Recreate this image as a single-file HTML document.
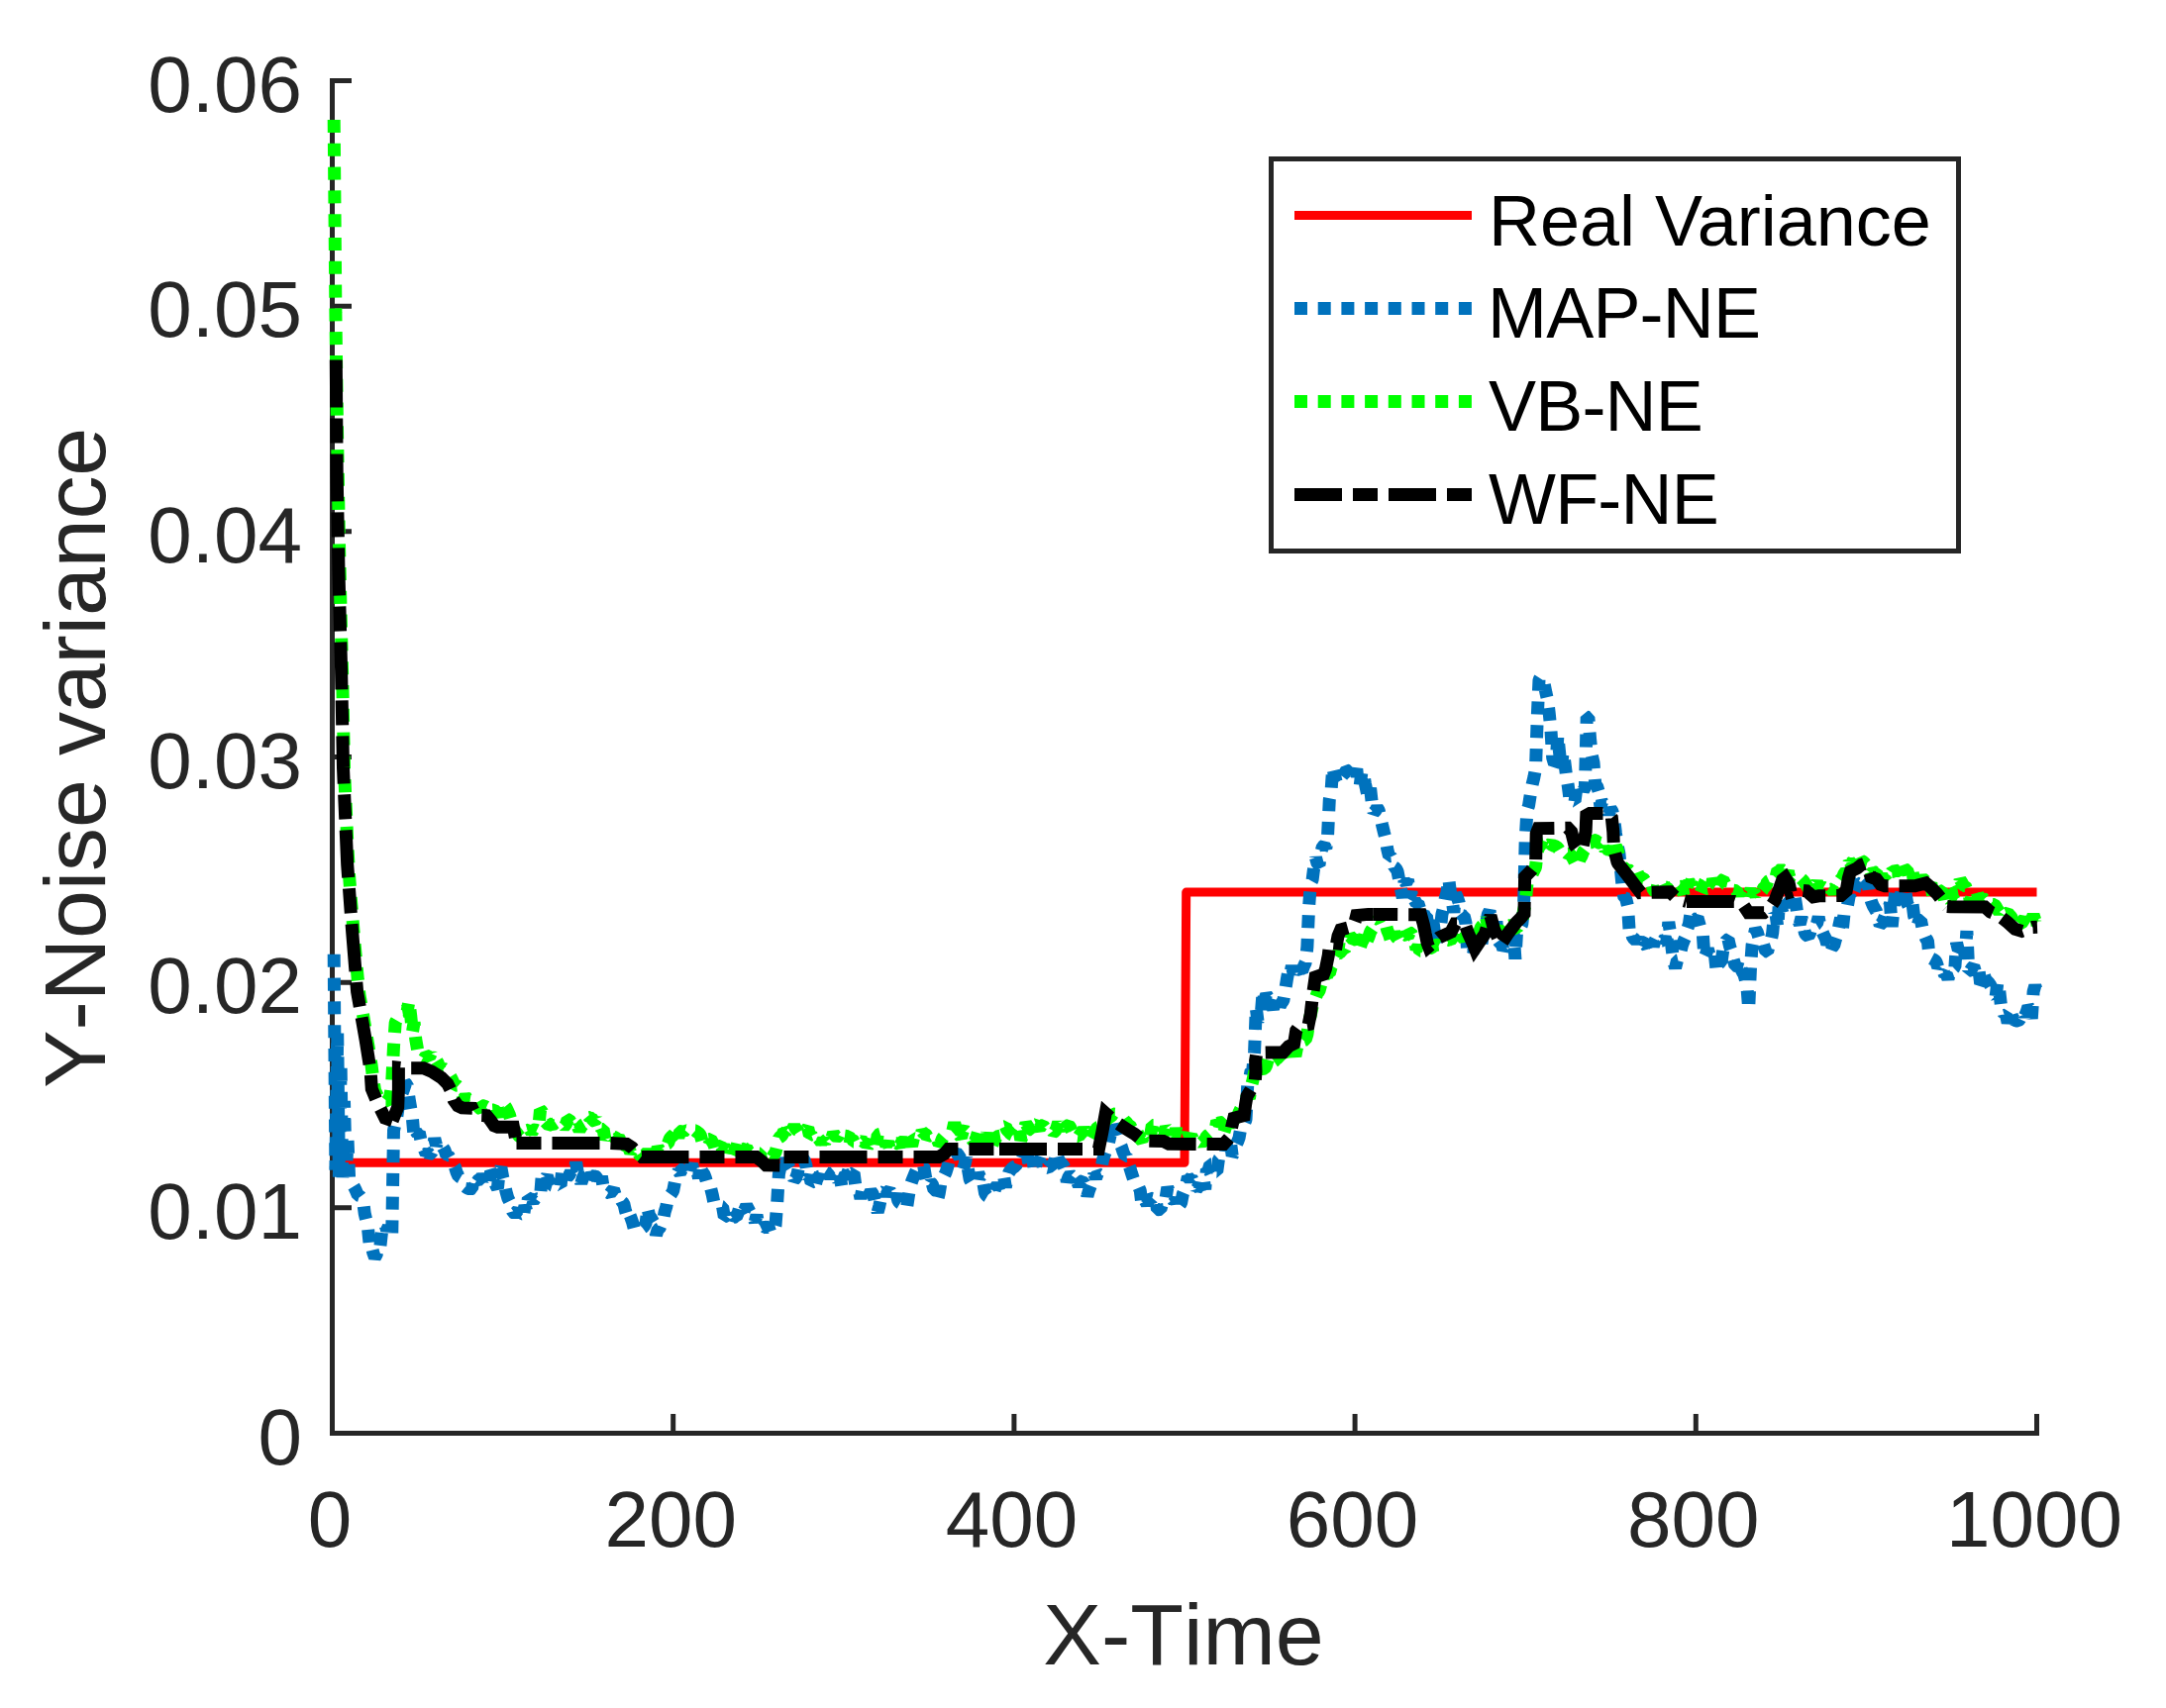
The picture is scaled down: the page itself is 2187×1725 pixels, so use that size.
<!DOCTYPE html>
<html lang="en"><head><meta charset="utf-8"><title>Y-Noise variance</title>
<style>html,body{margin:0;padding:0;background:#fff}svg{display:block}text{font-family:"Liberation Sans",Arial,Helvetica,sans-serif}.tk{font-size:80px;fill:#262626}.lb{font-size:88px;fill:#262626;font-kerning:none}.lg{font-size:72px;fill:#000}</style></head><body>
<svg width="2187" height="1725" viewBox="0 0 2187 1725">
<rect width="2187" height="1725" fill="#fff"/>
<g stroke="#262626" stroke-width="5" fill="none" stroke-linecap="butt">
<path d="M335.5 79 V1450 M333 1447.5 H2059"/>
<path d="M333 1219.8 H355 M333 992.2 H355 M333 764.5 H355 M333 536.8 H355 M333 309.2 H355 M333 81.5 H355 M679.7 1450 V1428 M1023.9 1450 V1428 M1368.1 1450 V1428 M1712.3 1450 V1428 M2056.5 1450 V1428"/>
</g>
<g fill="none" stroke-linejoin="miter" stroke-linecap="butt">
<path d="M337.2 1174.3 L1196.0 1174.3 L1197.7 901.1 L2056.5 901.1" stroke="#ff0000" stroke-width="9" stroke-linejoin="round"/>
<path d="M337.2 963.8 L338.9 1181.6 L340.7 1043.0 L342.4 1188.6 L344.1 1075.4 L345.8 1193.7 L347.5 1112.0 L349.3 1186.6 L351.0 1150.2 L352.7 1192.0 L354.4 1193.6 L356.2 1196.6 L357.9 1199.4 L359.6 1202.9 L361.3 1207.0 L363.0 1207.5 L364.8 1210.0 L366.5 1212.1 L368.2 1225.5 L369.9 1232.8 L371.6 1241.3 L373.4 1258.8 L375.1 1257.8 L376.8 1265.3 L378.5 1269.9 L380.2 1267.0 L382.0 1259.0 L383.7 1260.3 L385.4 1245.0 L387.1 1244.3 L388.9 1236.9 L390.6 1242.3 L392.3 1238.7 L394.0 1247.3 L395.7 1249.4 L397.5 1141.7 L399.2 1134.3 L400.9 1126.8 L402.6 1114.6 L404.3 1110.3 L406.1 1103.8 L407.8 1099.5 L409.5 1094.3 L411.2 1095.5 L412.9 1108.6 L414.7 1119.2 L416.4 1129.2 L418.1 1148.5 L419.8 1142.5 L421.6 1145.2 L423.3 1143.7 L425.0 1151.8 L426.7 1157.6 L428.4 1161.0 L430.2 1165.3 L431.9 1163.9 L433.6 1165.8 L435.3 1165.1 L437.0 1160.7 L438.8 1149.8 L440.5 1156.5 L442.2 1152.7 L443.9 1156.2 L445.6 1155.8 L447.4 1159.2 L449.1 1161.7 L450.8 1166.9 L452.5 1166.7 L454.2 1169.8 L456.0 1172.9 L457.7 1176.3 L459.4 1178.6 L461.1 1184.1 L462.9 1188.1 L464.6 1188.8 L466.3 1189.8 L468.0 1194.9 L469.7 1198.2 L471.5 1199.7 L473.2 1200.4 L474.9 1201.1 L476.6 1200.3 L478.3 1189.0 L480.1 1192.4 L481.8 1193.5 L483.5 1191.1 L485.2 1190.7 L486.9 1187.6 L488.7 1190.2 L490.4 1188.5 L492.1 1189.8 L493.8 1194.6 L495.6 1183.4 L497.3 1185.3 L499.0 1189.6 L500.7 1197.0 L502.4 1200.1 L504.2 1182.9 L505.9 1179.2 L507.6 1188.6 L509.3 1195.0 L511.0 1203.6 L512.8 1210.0 L514.5 1213.4 L516.2 1218.6 L517.9 1224.4 L519.6 1225.3 L521.4 1224.1 L523.1 1222.0 L524.8 1226.4 L526.5 1225.8 L528.3 1229.8 L530.0 1217.5 L531.7 1223.1 L533.4 1210.0 L535.1 1210.6 L536.9 1211.2 L538.6 1213.0 L540.3 1210.6 L542.0 1211.0 L543.7 1210.2 L545.5 1209.6 L547.2 1187.5 L548.9 1191.5 L550.6 1190.4 L552.3 1187.6 L554.1 1193.4 L555.8 1194.1 L557.5 1197.3 L559.2 1197.8 L561.0 1195.9 L562.7 1194.6 L564.4 1196.5 L566.1 1197.4 L567.8 1181.1 L569.6 1185.8 L571.3 1185.3 L573.0 1188.5 L574.7 1187.1 L576.4 1183.4 L578.2 1186.6 L579.9 1186.0 L581.6 1173.6 L583.3 1184.9 L585.0 1188.8 L586.8 1195.0 L588.5 1189.3 L590.2 1185.8 L591.9 1184.8 L593.6 1183.2 L595.4 1189.8 L597.1 1186.0 L598.8 1188.0 L600.5 1187.4 L602.3 1188.7 L604.0 1193.5 L605.7 1197.3 L607.4 1188.1 L609.1 1198.6 L610.9 1202.8 L612.6 1204.4 L614.3 1204.5 L616.0 1205.5 L617.7 1203.2 L619.5 1201.2 L621.2 1206.6 L622.9 1207.1 L624.6 1209.4 L626.3 1209.3 L628.1 1213.9 L629.8 1215.4 L631.5 1222.9 L633.2 1228.6 L635.0 1225.0 L636.7 1229.0 L638.4 1233.7 L640.1 1240.2 L641.8 1240.9 L643.6 1242.3 L645.3 1240.6 L647.0 1241.5 L648.7 1239.9 L650.4 1238.7 L652.2 1235.1 L653.9 1220.2 L655.6 1227.8 L657.3 1230.0 L659.0 1233.1 L660.8 1236.1 L662.5 1247.4 L664.2 1241.7 L665.9 1240.8 L667.7 1236.3 L669.4 1233.6 L671.1 1224.2 L672.8 1218.6 L674.5 1208.9 L676.3 1207.8 L678.0 1205.4 L679.7 1202.8 L681.4 1194.0 L683.1 1186.1 L684.9 1182.7 L686.6 1184.7 L688.3 1181.1 L690.0 1180.6 L691.7 1184.8 L693.5 1185.6 L695.2 1187.6 L696.9 1179.7 L698.6 1175.4 L700.4 1184.5 L702.1 1183.2 L703.8 1182.8 L705.5 1189.7 L707.2 1175.6 L709.0 1183.8 L710.7 1185.3 L712.4 1189.8 L714.1 1195.6 L715.8 1195.2 L717.6 1199.9 L719.3 1206.8 L721.0 1215.1 L722.7 1216.0 L724.4 1217.3 L726.2 1218.6 L727.9 1218.4 L729.6 1218.8 L731.3 1228.8 L733.1 1228.3 L734.8 1226.0 L736.5 1224.8 L738.2 1226.1 L739.9 1230.4 L741.7 1229.0 L743.4 1229.2 L745.1 1225.2 L746.8 1219.3 L748.5 1221.4 L750.3 1224.7 L752.0 1221.5 L753.7 1217.5 L755.4 1220.8 L757.1 1224.1 L758.9 1223.6 L760.6 1229.7 L762.3 1233.8 L764.0 1227.3 L765.8 1236.1 L767.5 1240.8 L769.2 1240.0 L770.9 1238.6 L772.6 1239.4 L774.4 1239.4 L776.1 1239.3 L777.8 1244.6 L779.5 1244.6 L781.2 1243.5 L783.0 1237.6 L784.7 1214.7 L786.4 1185.8 L788.1 1178.1 L789.8 1179.5 L791.6 1178.6 L793.3 1169.7 L795.0 1175.8 L796.7 1178.7 L798.4 1181.6 L800.2 1185.7 L801.9 1191.5 L803.6 1190.0 L805.3 1184.8 L807.1 1175.7 L808.8 1170.0 L810.5 1169.9 L812.2 1171.7 L813.9 1176.9 L815.7 1190.7 L817.4 1188.1 L819.1 1194.2 L820.8 1193.5 L822.5 1200.4 L824.3 1192.3 L826.0 1188.5 L827.7 1188.1 L829.4 1179.4 L831.1 1181.2 L832.9 1183.6 L834.6 1184.7 L836.3 1185.8 L838.0 1188.3 L839.8 1185.6 L841.5 1184.3 L843.2 1183.2 L844.9 1188.1 L846.6 1193.0 L848.4 1189.4 L850.1 1199.9 L851.8 1190.2 L853.5 1186.1 L855.2 1186.8 L857.0 1181.3 L858.7 1178.6 L860.4 1185.3 L862.1 1184.6 L863.8 1197.4 L865.6 1199.2 L867.3 1202.1 L869.0 1210.5 L870.7 1201.6 L872.5 1201.7 L874.2 1203.7 L875.9 1205.5 L877.6 1206.5 L879.3 1203.0 L881.1 1205.5 L882.8 1210.8 L884.5 1218.4 L886.2 1224.2 L887.9 1217.8 L889.7 1209.0 L891.4 1204.1 L893.1 1203.0 L894.8 1207.1 L896.5 1203.6 L898.3 1202.3 L900.0 1205.5 L901.7 1209.0 L903.4 1210.9 L905.2 1206.1 L906.9 1213.0 L908.6 1214.9 L910.3 1215.9 L912.0 1217.2 L913.8 1217.8 L915.5 1220.1 L917.2 1208.8 L918.9 1198.6 L920.6 1193.2 L922.4 1188.7 L924.1 1184.6 L925.8 1181.0 L927.5 1181.4 L929.2 1177.7 L931.0 1177.6 L932.7 1177.7 L934.4 1188.0 L936.1 1195.1 L937.9 1197.5 L939.6 1194.3 L941.3 1195.8 L943.0 1201.7 L944.7 1202.2 L946.5 1212.1 L948.2 1205.5 L949.9 1195.2 L951.6 1191.8 L953.3 1187.6 L955.1 1183.9 L956.8 1178.4 L958.5 1170.8 L960.2 1167.7 L961.9 1164.7 L963.7 1164.4 L965.4 1163.5 L967.1 1166.2 L968.8 1167.2 L970.5 1177.5 L972.3 1181.3 L974.0 1176.2 L975.7 1169.1 L977.4 1180.7 L979.2 1191.1 L980.9 1194.0 L982.6 1195.2 L984.3 1195.8 L986.0 1195.6 L987.8 1184.7 L989.5 1188.7 L991.2 1186.5 L992.9 1195.1 L994.6 1205.5 L996.4 1207.8 L998.1 1208.8 L999.8 1208.3 L1001.5 1206.9 L1003.2 1205.9 L1005.0 1199.5 L1006.7 1197.3 L1008.4 1199.4 L1010.1 1192.9 L1011.9 1192.6 L1013.6 1188.0 L1015.3 1199.0 L1017.0 1190.2 L1018.7 1184.2 L1020.5 1181.6 L1022.2 1179.8 L1023.9 1178.5 L1025.6 1177.8 L1027.3 1172.9 L1029.1 1173.7 L1030.8 1174.2 L1032.5 1169.6 L1034.2 1169.2 L1035.9 1167.5 L1037.7 1168.5 L1039.4 1178.8 L1041.1 1171.9 L1042.8 1169.3 L1044.6 1183.8 L1046.3 1173.1 L1048.0 1173.0 L1049.7 1171.9 L1051.4 1176.7 L1053.2 1179.8 L1054.9 1181.1 L1056.6 1179.2 L1058.3 1179.6 L1060.0 1177.7 L1061.8 1177.0 L1063.5 1174.9 L1065.2 1171.8 L1066.9 1163.8 L1068.6 1170.9 L1070.4 1173.6 L1072.1 1175.4 L1073.8 1177.3 L1075.5 1181.4 L1077.3 1193.5 L1079.0 1188.7 L1080.7 1186.3 L1082.4 1187.9 L1084.1 1187.2 L1085.9 1191.0 L1087.6 1193.6 L1089.3 1197.5 L1091.0 1193.2 L1092.7 1192.9 L1094.5 1195.1 L1096.2 1199.1 L1097.9 1207.8 L1099.6 1202.0 L1101.3 1197.7 L1103.1 1193.8 L1104.8 1185.7 L1106.5 1189.8 L1108.2 1185.2 L1110.0 1186.4 L1111.7 1182.8 L1113.4 1172.0 L1115.1 1166.6 L1116.8 1161.8 L1118.6 1157.9 L1120.3 1150.2 L1122.0 1142.1 L1123.7 1142.3 L1125.4 1133.3 L1127.2 1143.9 L1128.9 1149.2 L1130.6 1154.2 L1132.3 1158.0 L1134.0 1163.3 L1135.8 1167.5 L1137.5 1167.3 L1139.2 1175.2 L1140.9 1179.5 L1142.6 1185.1 L1144.4 1190.5 L1146.1 1193.6 L1147.8 1195.3 L1149.5 1198.3 L1151.3 1202.5 L1153.0 1217.1 L1154.7 1213.1 L1156.4 1212.9 L1158.1 1216.0 L1159.9 1212.2 L1161.6 1210.1 L1163.3 1210.5 L1165.0 1208.5 L1166.7 1209.2 L1168.5 1221.5 L1170.2 1221.7 L1171.9 1221.4 L1173.6 1214.9 L1175.3 1215.3 L1177.1 1209.8 L1178.8 1199.4 L1180.5 1203.7 L1182.2 1207.6 L1184.0 1210.9 L1185.7 1213.9 L1187.4 1210.1 L1189.1 1221.8 L1190.8 1217.4 L1192.6 1215.0 L1194.3 1206.0 L1196.0 1201.9 L1197.7 1196.2 L1199.4 1188.8 L1201.2 1190.7 L1202.9 1188.9 L1204.6 1193.7 L1206.3 1195.5 L1208.0 1201.1 L1209.8 1198.9 L1211.5 1201.0 L1213.2 1191.4 L1214.9 1188.8 L1216.7 1201.3 L1218.4 1181.0 L1220.1 1181.8 L1221.8 1176.1 L1223.5 1176.1 L1225.3 1177.0 L1227.0 1183.4 L1228.7 1183.5 L1230.4 1170.8 L1232.1 1169.2 L1233.9 1165.9 L1235.6 1165.7 L1237.3 1164.2 L1239.0 1149.7 L1240.7 1148.8 L1242.5 1153.9 L1244.2 1167.2 L1245.9 1164.3 L1247.6 1157.2 L1249.4 1153.5 L1251.1 1149.2 L1252.8 1139.1 L1254.5 1137.4 L1256.2 1135.1 L1258.0 1130.7 L1259.7 1096.5 L1261.4 1090.8 L1263.1 1081.4 L1264.8 1080.8 L1266.6 1062.1 L1268.3 1017.9 L1270.0 1031.3 L1271.7 1026.0 L1273.4 1023.5 L1275.2 1000.5 L1276.9 1009.4 L1278.6 1004.6 L1280.3 1007.1 L1282.0 1014.7 L1283.8 1014.8 L1285.5 1018.9 L1287.2 1012.7 L1288.9 1006.9 L1290.7 1006.8 L1292.4 1016.0 L1294.1 1012.8 L1295.8 1010.6 L1297.5 1001.1 L1299.3 989.7 L1301.0 980.3 L1302.7 983.6 L1304.4 975.6 L1306.1 983.2 L1307.9 979.2 L1309.6 978.0 L1311.3 981.2 L1313.0 979.5 L1314.7 980.8 L1316.5 975.7 L1318.2 972.1 L1319.9 956.2 L1321.6 916.1 L1323.4 891.7 L1325.1 888.6 L1326.8 875.5 L1328.5 866.2 L1330.2 872.5 L1332.0 873.6 L1333.7 861.1 L1335.4 855.1 L1337.1 853.9 L1338.8 857.0 L1340.6 843.2 L1342.3 807.5 L1344.0 799.6 L1345.7 775.1 L1347.4 782.8 L1349.2 789.4 L1350.9 791.9 L1352.6 787.2 L1354.3 784.6 L1356.1 782.3 L1357.8 780.7 L1359.5 778.0 L1361.2 778.5 L1362.9 783.8 L1364.7 779.7 L1366.4 778.9 L1368.1 781.2 L1369.8 776.7 L1371.5 794.3 L1373.3 792.7 L1375.0 778.9 L1376.7 781.0 L1378.4 791.5 L1380.1 799.6 L1381.9 803.0 L1383.6 796.0 L1385.3 811.4 L1387.0 820.6 L1388.8 818.8 L1390.5 815.7 L1392.2 818.4 L1393.9 825.5 L1395.6 833.2 L1397.4 840.6 L1399.1 847.2 L1400.8 857.7 L1402.5 864.7 L1404.2 864.5 L1406.0 868.2 L1407.7 875.8 L1409.4 876.8 L1411.1 880.2 L1412.8 889.2 L1414.6 898.5 L1416.3 906.7 L1418.0 889.9 L1419.7 891.9 L1421.5 888.0 L1423.2 906.5 L1424.9 900.7 L1426.6 912.5 L1428.3 909.1 L1430.1 912.4 L1431.8 912.1 L1433.5 917.2 L1435.2 914.6 L1436.9 921.6 L1438.7 925.0 L1440.4 925.2 L1442.1 938.3 L1443.8 932.2 L1445.5 934.5 L1447.3 933.2 L1449.0 946.2 L1450.7 951.5 L1452.4 938.2 L1454.2 939.6 L1455.9 923.7 L1457.6 916.9 L1459.3 907.0 L1461.0 901.4 L1462.8 888.0 L1464.5 901.8 L1466.2 908.8 L1467.9 921.7 L1469.6 902.6 L1471.4 906.4 L1473.1 911.3 L1474.8 922.4 L1476.5 924.6 L1478.2 925.0 L1480.0 932.4 L1481.7 961.9 L1483.4 956.0 L1485.1 956.7 L1486.8 955.7 L1488.6 959.1 L1490.3 958.1 L1492.0 960.6 L1493.7 961.8 L1495.5 956.6 L1497.2 944.8 L1498.9 936.1 L1500.6 932.4 L1502.3 923.5 L1504.1 920.0 L1505.8 931.7 L1507.5 937.6 L1509.2 945.5 L1510.9 930.5 L1512.7 949.9 L1514.4 952.3 L1516.1 953.0 L1517.8 958.6 L1519.5 956.4 L1521.3 956.0 L1523.0 949.9 L1524.7 948.4 L1526.4 949.8 L1528.2 942.6 L1529.9 968.6 L1531.6 939.9 L1533.3 938.1 L1535.0 937.0 L1536.8 933.4 L1538.5 917.9 L1540.2 848.2 L1541.9 818.8 L1543.6 813.3 L1545.4 801.7 L1547.1 792.3 L1548.8 785.4 L1550.5 776.4 L1552.2 725.5 L1554.0 686.5 L1555.7 683.9 L1557.4 684.0 L1559.1 690.5 L1560.9 699.5 L1562.6 706.9 L1564.3 721.1 L1566.0 738.0 L1567.7 765.3 L1569.5 771.3 L1571.2 770.1 L1572.9 742.6 L1574.6 760.1 L1576.3 775.1 L1578.1 759.9 L1579.8 769.4 L1581.5 783.0 L1583.2 793.1 L1584.9 806.3 L1586.7 810.9 L1588.4 808.8 L1590.1 809.3 L1591.8 796.0 L1593.6 795.8 L1595.3 792.7 L1597.0 792.2 L1598.7 798.3 L1600.4 795.4 L1602.2 724.1 L1603.9 724.4 L1605.6 746.8 L1607.3 762.9 L1609.0 770.3 L1610.8 792.6 L1612.5 794.0 L1614.2 799.5 L1615.9 815.1 L1617.6 809.8 L1619.4 812.0 L1621.1 816.3 L1622.8 816.8 L1624.5 822.2 L1626.2 816.8 L1628.0 819.6 L1629.7 827.3 L1631.4 841.4 L1633.1 853.7 L1634.9 861.9 L1636.6 879.4 L1638.3 897.6 L1640.0 906.9 L1641.7 907.5 L1643.5 915.0 L1645.2 941.1 L1646.9 939.5 L1648.6 947.1 L1650.3 948.5 L1652.1 950.4 L1653.8 948.3 L1655.5 951.4 L1657.2 957.1 L1658.9 958.5 L1660.7 953.8 L1662.4 955.2 L1664.1 950.7 L1665.8 947.1 L1667.6 944.0 L1669.3 955.7 L1671.0 950.1 L1672.7 946.6 L1674.4 945.9 L1676.2 950.5 L1677.9 949.9 L1679.6 949.8 L1681.3 947.4 L1683.0 951.3 L1684.8 931.3 L1686.5 942.2 L1688.2 958.5 L1689.9 971.5 L1691.6 977.5 L1693.4 970.1 L1695.1 969.7 L1696.8 961.6 L1698.5 954.4 L1700.3 949.8 L1702.0 946.1 L1703.7 938.0 L1705.4 933.3 L1707.1 921.7 L1708.9 928.1 L1710.6 928.1 L1712.3 928.3 L1714.0 926.8 L1715.7 932.7 L1717.5 939.4 L1719.2 941.4 L1720.9 967.0 L1722.6 963.4 L1724.3 958.2 L1726.1 964.6 L1727.8 963.4 L1729.5 960.8 L1731.2 962.2 L1733.0 979.3 L1734.7 972.6 L1736.4 972.2 L1738.1 971.4 L1739.8 959.4 L1741.6 953.3 L1743.3 949.2 L1745.0 948.7 L1746.7 956.2 L1748.4 961.0 L1750.2 969.2 L1751.9 975.2 L1753.6 975.7 L1755.3 969.8 L1757.0 970.0 L1758.8 981.3 L1760.5 982.9 L1762.2 988.8 L1763.9 996.0 L1765.7 1019.1 L1767.4 979.2 L1769.1 954.6 L1770.8 945.8 L1772.5 938.5 L1774.3 941.4 L1776.0 947.2 L1777.7 949.9 L1779.4 949.3 L1781.1 955.4 L1782.9 960.9 L1784.6 961.2 L1786.3 954.3 L1788.0 950.5 L1789.7 942.3 L1791.5 923.0 L1793.2 924.6 L1794.9 937.0 L1796.6 907.1 L1798.3 916.3 L1800.1 922.4 L1801.8 920.0 L1803.5 915.6 L1805.2 912.4 L1807.0 910.5 L1808.7 910.8 L1810.4 915.9 L1812.1 904.9 L1813.8 915.8 L1815.6 929.5 L1817.3 933.3 L1819.0 926.4 L1820.7 933.5 L1822.4 942.6 L1824.2 944.6 L1825.9 945.6 L1827.6 942.1 L1829.3 935.4 L1831.0 933.8 L1832.8 933.9 L1834.5 932.9 L1836.2 926.2 L1837.9 935.4 L1839.7 940.1 L1841.4 944.3 L1843.1 947.5 L1844.8 953.3 L1846.5 950.0 L1848.3 948.6 L1850.0 956.4 L1851.7 955.0 L1853.4 948.8 L1855.1 944.0 L1856.9 934.7 L1858.6 927.1 L1860.3 939.0 L1862.0 923.2 L1863.7 917.7 L1865.5 914.1 L1867.2 904.9 L1868.9 909.0 L1870.6 903.1 L1872.4 898.9 L1874.1 891.6 L1875.8 892.4 L1877.5 891.0 L1879.2 887.1 L1881.0 890.0 L1882.7 886.7 L1884.4 888.4 L1886.1 891.7 L1887.8 904.5 L1889.6 910.7 L1891.3 914.9 L1893.0 917.8 L1894.7 920.8 L1896.4 928.4 L1898.2 934.0 L1899.9 932.6 L1901.6 929.7 L1903.3 925.4 L1905.1 919.2 L1906.8 917.2 L1908.5 912.6 L1910.2 935.9 L1911.9 918.6 L1913.7 901.2 L1915.4 908.3 L1917.1 912.2 L1918.8 907.2 L1920.5 897.8 L1922.3 897.1 L1924.0 901.6 L1925.7 912.4 L1927.4 915.9 L1929.1 917.2 L1930.9 911.7 L1932.6 925.2 L1934.3 929.5 L1936.0 935.1 L1937.8 929.3 L1939.5 929.4 L1941.2 938.1 L1942.9 943.4 L1944.6 947.9 L1946.4 950.0 L1948.1 967.0 L1949.8 967.8 L1951.5 968.7 L1953.2 969.4 L1955.0 971.5 L1956.7 976.6 L1958.4 974.3 L1960.1 980.0 L1961.8 980.7 L1963.6 984.7 L1965.3 983.8 L1967.0 988.7 L1968.7 981.5 L1970.5 981.8 L1972.2 978.2 L1973.9 976.6 L1975.6 952.3 L1977.3 959.2 L1979.1 958.1 L1980.8 952.1 L1982.5 956.3 L1984.2 964.9 L1985.9 940.2 L1987.7 980.4 L1989.4 980.1 L1991.1 977.4 L1992.8 975.8 L1994.5 981.4 L1996.3 976.9 L1998.0 979.4 L1999.7 993.4 L2001.4 991.6 L2003.1 983.9 L2004.9 989.6 L2006.6 991.0 L2008.3 992.9 L2010.0 995.4 L2011.8 1002.3 L2013.5 1004.4 L2015.2 1006.0 L2016.9 992.1 L2018.6 999.2 L2020.4 1015.2 L2022.1 1018.3 L2023.8 1025.5 L2025.5 1025.0 L2027.2 1033.0 L2029.0 1026.6 L2030.7 1023.0 L2032.4 1029.3 L2034.1 1030.1 L2035.8 1031.0 L2037.6 1031.1 L2039.3 1029.7 L2041.0 1025.9 L2042.7 1021.9 L2044.5 1025.9 L2046.2 1022.0 L2047.9 1016.8 L2049.6 1019.0 L2051.3 1028.7 L2053.1 1001.6 L2054.8 995.6 L2056.5 1000.8" stroke="#0072bd" stroke-width="13" stroke-dasharray="13 10.8" stroke-linejoin="bevel"/>
<path d="M337.2 121.0 L338.9 315.7 L340.7 447.2 L342.4 544.5 L344.1 620.1 L345.8 688.7 L347.5 776.1 L349.3 816.3 L351.0 856.4 L352.7 886.1 L354.4 908.3 L356.2 930.6 L357.9 951.1 L359.6 970.2 L361.3 989.3 L363.0 1005.0 L364.8 1014.9 L366.5 1024.7 L368.2 1034.5 L369.9 1044.4 L371.6 1054.6 L373.4 1065.3 L375.1 1076.1 L376.8 1090.1 L378.5 1101.3 L380.2 1104.7 L382.0 1108.2 L383.7 1111.6 L385.4 1112.1 L387.1 1112.1 L388.9 1112.1 L390.6 1112.1 L392.3 1110.1 L394.0 1106.7 L395.7 1094.2 L397.5 1056.9 L399.2 1032.6 L400.9 1029.7 L402.6 1026.8 L404.3 1023.7 L406.1 1021.4 L407.8 1021.1 L409.5 1020.3 L411.2 1021.2 L412.9 1011.4 L414.7 1025.7 L416.4 1042.5 L418.1 1032.5 L419.8 1049.9 L421.6 1060.1 L423.3 1065.3 L425.0 1067.6 L426.7 1068.1 L428.4 1069.0 L430.2 1066.0 L431.9 1066.8 L433.6 1067.5 L435.3 1064.0 L437.0 1069.1 L438.8 1068.4 L440.5 1070.9 L442.2 1073.7 L443.9 1079.5 L445.6 1079.1 L447.4 1078.8 L449.1 1080.0 L450.8 1080.8 L452.5 1083.6 L454.2 1086.5 L456.0 1089.4 L457.7 1093.2 L459.4 1096.2 L461.1 1096.0 L462.9 1097.6 L464.6 1098.6 L466.3 1103.3 L468.0 1110.0 L469.7 1107.6 L471.5 1109.7 L473.2 1110.0 L474.9 1110.3 L476.6 1110.5 L478.3 1112.9 L480.1 1112.7 L481.8 1114.9 L483.5 1119.0 L485.2 1119.7 L486.9 1116.7 L488.7 1116.7 L490.4 1117.9 L492.1 1118.6 L493.8 1121.1 L495.6 1117.9 L497.3 1121.1 L499.0 1121.0 L500.7 1122.8 L502.4 1123.7 L504.2 1125.8 L505.9 1122.8 L507.6 1123.8 L509.3 1116.4 L511.0 1118.5 L512.8 1122.3 L514.5 1126.2 L516.2 1132.6 L517.9 1133.3 L519.6 1142.3 L521.4 1143.7 L523.1 1146.1 L524.8 1148.2 L526.5 1148.6 L528.3 1142.8 L530.0 1142.6 L531.7 1142.0 L533.4 1141.5 L535.1 1140.7 L536.9 1143.8 L538.6 1141.2 L540.3 1140.9 L542.0 1141.7 L543.7 1140.0 L545.5 1121.1 L547.2 1122.5 L548.9 1127.4 L550.6 1132.7 L552.3 1134.6 L554.1 1136.4 L555.8 1135.9 L557.5 1136.7 L559.2 1134.9 L561.0 1133.7 L562.7 1134.6 L564.4 1136.2 L566.1 1136.5 L567.8 1135.6 L569.6 1137.7 L571.3 1135.9 L573.0 1130.7 L574.7 1131.0 L576.4 1133.5 L578.2 1133.7 L579.9 1135.7 L581.6 1140.4 L583.3 1138.0 L585.0 1141.5 L586.8 1138.1 L588.5 1136.1 L590.2 1135.1 L591.9 1127.7 L593.6 1126.5 L595.4 1128.7 L597.1 1128.3 L598.8 1131.7 L600.5 1132.4 L602.3 1129.8 L604.0 1134.6 L605.7 1136.1 L607.4 1140.4 L609.1 1140.5 L610.9 1150.5 L612.6 1147.0 L614.3 1146.1 L616.0 1145.6 L617.7 1146.4 L619.5 1148.2 L621.2 1148.7 L622.9 1150.1 L624.6 1148.6 L626.3 1151.6 L628.1 1149.4 L629.8 1151.6 L631.5 1151.3 L633.2 1160.9 L635.0 1159.7 L636.7 1163.9 L638.4 1161.0 L640.1 1162.5 L641.8 1162.1 L643.6 1162.0 L645.3 1165.6 L647.0 1167.3 L648.7 1167.3 L650.4 1166.8 L652.2 1165.5 L653.9 1163.3 L655.6 1165.3 L657.3 1164.4 L659.0 1168.9 L660.8 1168.0 L662.5 1165.0 L664.2 1159.0 L665.9 1161.6 L667.7 1158.4 L669.4 1158.8 L671.1 1155.5 L672.8 1155.6 L674.5 1154.9 L676.3 1149.9 L678.0 1147.9 L679.7 1146.7 L681.4 1144.4 L683.1 1141.2 L684.9 1148.6 L686.6 1142.8 L688.3 1142.4 L690.0 1143.4 L691.7 1141.5 L693.5 1142.0 L695.2 1140.7 L696.9 1140.8 L698.6 1141.2 L700.4 1141.7 L702.1 1141.8 L703.8 1143.3 L705.5 1144.4 L707.2 1146.3 L709.0 1152.8 L710.7 1150.9 L712.4 1147.4 L714.1 1148.0 L715.8 1150.7 L717.6 1150.4 L719.3 1153.4 L721.0 1156.1 L722.7 1162.5 L724.4 1157.0 L726.2 1157.6 L727.9 1157.3 L729.6 1159.8 L731.3 1157.7 L733.1 1161.1 L734.8 1159.7 L736.5 1161.6 L738.2 1162.2 L739.9 1167.2 L741.7 1162.7 L743.4 1160.8 L745.1 1152.9 L746.8 1155.5 L748.5 1154.7 L750.3 1158.6 L752.0 1160.2 L753.7 1159.1 L755.4 1162.5 L757.1 1163.9 L758.9 1162.9 L760.6 1162.0 L762.3 1160.5 L764.0 1163.4 L765.8 1165.0 L767.5 1165.1 L769.2 1174.6 L770.9 1169.5 L772.6 1170.2 L774.4 1167.6 L776.1 1168.4 L777.8 1169.2 L779.5 1168.8 L781.2 1166.2 L783.0 1164.0 L784.7 1157.1 L786.4 1149.1 L788.1 1148.0 L789.8 1146.4 L791.6 1142.2 L793.3 1143.3 L795.0 1141.1 L796.7 1143.1 L798.4 1145.6 L800.2 1140.5 L801.9 1137.0 L803.6 1140.5 L805.3 1141.4 L807.1 1144.2 L808.8 1144.8 L810.5 1142.2 L812.2 1143.1 L813.9 1141.2 L815.7 1139.2 L817.4 1146.5 L819.1 1145.9 L820.8 1149.4 L822.5 1152.0 L824.3 1149.5 L826.0 1149.3 L827.7 1151.4 L829.4 1154.0 L831.1 1151.4 L832.9 1153.9 L834.6 1149.9 L836.3 1152.0 L838.0 1151.3 L839.8 1149.3 L841.5 1144.3 L843.2 1147.1 L844.9 1148.4 L846.6 1147.4 L848.4 1142.8 L850.1 1143.9 L851.8 1147.0 L853.5 1147.2 L855.2 1147.7 L857.0 1147.5 L858.7 1150.1 L860.4 1149.7 L862.1 1153.3 L863.8 1153.4 L865.6 1153.6 L867.3 1155.5 L869.0 1153.0 L870.7 1152.3 L872.5 1153.5 L874.2 1151.7 L875.9 1158.0 L877.6 1155.3 L879.3 1153.9 L881.1 1154.9 L882.8 1156.5 L884.5 1157.3 L886.2 1146.3 L887.9 1145.6 L889.7 1145.1 L891.4 1150.9 L893.1 1152.8 L894.8 1156.8 L896.5 1153.3 L898.3 1160.0 L900.0 1160.4 L901.7 1158.1 L903.4 1154.9 L905.2 1154.8 L906.9 1154.9 L908.6 1156.6 L910.3 1153.6 L912.0 1152.6 L913.8 1153.8 L915.5 1158.4 L917.2 1155.1 L918.9 1152.8 L920.6 1157.3 L922.4 1149.5 L924.1 1149.9 L925.8 1148.2 L927.5 1148.6 L929.2 1148.2 L931.0 1142.6 L932.7 1144.6 L934.4 1144.9 L936.1 1148.0 L937.9 1147.0 L939.6 1147.0 L941.3 1150.7 L943.0 1151.8 L944.7 1150.8 L946.5 1151.1 L948.2 1155.4 L949.9 1154.1 L951.6 1149.6 L953.3 1147.7 L955.1 1146.0 L956.8 1144.4 L958.5 1143.1 L960.2 1143.5 L961.9 1142.0 L963.7 1134.0 L965.4 1140.8 L967.1 1146.5 L968.8 1146.4 L970.5 1148.8 L972.3 1142.2 L974.0 1141.6 L975.7 1143.2 L977.4 1144.5 L979.2 1145.4 L980.9 1149.5 L982.6 1152.3 L984.3 1152.6 L986.0 1148.4 L987.8 1142.2 L989.5 1145.9 L991.2 1145.5 L992.9 1157.9 L994.6 1156.1 L996.4 1143.8 L998.1 1160.9 L999.8 1159.8 L1001.5 1157.3 L1003.2 1153.1 L1005.0 1150.1 L1006.7 1147.9 L1008.4 1147.5 L1010.1 1147.2 L1011.9 1144.0 L1013.6 1138.0 L1015.3 1137.6 L1017.0 1141.6 L1018.7 1143.0 L1020.5 1145.3 L1022.2 1146.0 L1023.9 1147.6 L1025.6 1146.1 L1027.3 1142.7 L1029.1 1141.0 L1030.8 1151.1 L1032.5 1147.3 L1034.2 1139.8 L1035.9 1135.0 L1037.7 1137.6 L1039.4 1140.7 L1041.1 1140.7 L1042.8 1133.2 L1044.6 1136.1 L1046.3 1135.5 L1048.0 1137.9 L1049.7 1139.4 L1051.4 1136.8 L1053.2 1136.6 L1054.9 1138.9 L1056.6 1139.3 L1058.3 1141.0 L1060.0 1142.9 L1061.8 1141.4 L1063.5 1143.6 L1065.2 1142.7 L1066.9 1139.4 L1068.6 1133.7 L1070.4 1138.6 L1072.1 1137.2 L1073.8 1137.9 L1075.5 1139.9 L1077.3 1136.9 L1079.0 1136.4 L1080.7 1138.7 L1082.4 1142.3 L1084.1 1146.4 L1085.9 1149.1 L1087.6 1147.4 L1089.3 1147.6 L1091.0 1145.0 L1092.7 1144.0 L1094.5 1139.6 L1096.2 1143.7 L1097.9 1144.2 L1099.6 1146.0 L1101.3 1149.5 L1103.1 1146.2 L1104.8 1143.5 L1106.5 1141.2 L1108.2 1138.5 L1110.0 1138.0 L1111.7 1134.5 L1113.4 1132.8 L1115.1 1133.2 L1116.8 1131.3 L1118.6 1129.6 L1120.3 1128.2 L1122.0 1127.4 L1123.7 1125.0 L1125.4 1125.2 L1127.2 1125.2 L1128.9 1126.8 L1130.6 1127.4 L1132.3 1127.8 L1134.0 1129.8 L1135.8 1132.4 L1137.5 1133.6 L1139.2 1136.2 L1140.9 1136.7 L1142.6 1139.5 L1144.4 1138.6 L1146.1 1137.1 L1147.8 1142.6 L1149.5 1146.3 L1151.3 1150.4 L1153.0 1151.9 L1154.7 1146.7 L1156.4 1144.4 L1158.1 1145.3 L1159.9 1144.6 L1161.6 1147.1 L1163.3 1136.5 L1165.0 1136.5 L1166.7 1141.8 L1168.5 1144.7 L1170.2 1144.4 L1171.9 1146.4 L1173.6 1145.1 L1175.3 1144.0 L1177.1 1139.0 L1178.8 1141.5 L1180.5 1144.7 L1182.2 1144.8 L1184.0 1147.5 L1185.7 1148.2 L1187.4 1139.9 L1189.1 1145.9 L1190.8 1148.3 L1192.6 1148.4 L1194.3 1148.8 L1196.0 1148.1 L1197.7 1149.2 L1199.4 1150.1 L1201.2 1149.0 L1202.9 1147.3 L1204.6 1150.9 L1206.3 1149.4 L1208.0 1150.7 L1209.8 1151.2 L1211.5 1153.0 L1213.2 1154.1 L1214.9 1152.6 L1216.7 1151.2 L1218.4 1147.4 L1220.1 1146.4 L1221.8 1144.9 L1223.5 1144.0 L1225.3 1143.2 L1227.0 1141.3 L1228.7 1132.2 L1230.4 1134.4 L1232.1 1133.5 L1233.9 1133.8 L1235.6 1144.2 L1237.3 1138.7 L1239.0 1134.6 L1240.7 1137.4 L1242.5 1133.6 L1244.2 1129.1 L1245.9 1130.9 L1247.6 1129.3 L1249.4 1127.9 L1251.1 1123.2 L1252.8 1120.0 L1254.5 1116.6 L1256.2 1111.5 L1258.0 1110.2 L1259.7 1106.7 L1261.4 1109.7 L1263.1 1097.8 L1264.8 1091.8 L1266.6 1083.2 L1268.3 1076.9 L1270.0 1078.3 L1271.7 1079.3 L1273.4 1079.5 L1275.2 1079.6 L1276.9 1079.1 L1278.6 1076.2 L1280.3 1069.7 L1282.0 1070.5 L1283.8 1068.3 L1285.5 1072.4 L1287.2 1071.3 L1288.9 1068.9 L1290.7 1068.2 L1292.4 1067.9 L1294.1 1056.4 L1295.8 1058.2 L1297.5 1058.4 L1299.3 1058.2 L1301.0 1059.9 L1302.7 1061.1 L1304.4 1069.4 L1306.1 1061.3 L1307.9 1066.4 L1309.6 1057.6 L1311.3 1053.5 L1313.0 1053.7 L1314.7 1053.0 L1316.5 1050.6 L1318.2 1050.0 L1319.9 1044.5 L1321.6 1033.2 L1323.4 1024.6 L1325.1 1016.3 L1326.8 1008.5 L1328.5 1007.3 L1330.2 1002.9 L1332.0 1000.9 L1333.7 994.6 L1335.4 991.8 L1337.1 991.3 L1338.8 987.8 L1340.6 983.2 L1342.3 983.2 L1344.0 977.0 L1345.7 974.0 L1347.4 968.6 L1349.2 966.0 L1350.9 962.9 L1352.6 962.5 L1354.3 960.5 L1356.1 958.6 L1357.8 958.8 L1359.5 954.9 L1361.2 952.0 L1362.9 945.3 L1364.7 947.1 L1366.4 949.2 L1368.1 948.9 L1369.8 949.6 L1371.5 947.9 L1373.3 956.8 L1375.0 951.6 L1376.7 948.5 L1378.4 942.3 L1380.1 950.6 L1381.9 946.5 L1383.6 941.2 L1385.3 938.5 L1387.0 935.9 L1388.8 932.5 L1390.5 928.1 L1392.2 929.0 L1393.9 923.1 L1395.6 929.8 L1397.4 932.3 L1399.1 932.7 L1400.8 939.7 L1402.5 943.6 L1404.2 949.1 L1406.0 952.1 L1407.7 941.3 L1409.4 946.2 L1411.1 947.6 L1412.8 951.1 L1414.6 952.3 L1416.3 949.3 L1418.0 946.1 L1419.7 944.4 L1421.5 945.6 L1423.2 942.0 L1424.9 942.4 L1426.6 946.0 L1428.3 950.4 L1430.1 958.6 L1431.8 956.0 L1433.5 960.2 L1435.2 960.2 L1436.9 959.2 L1438.7 960.1 L1440.4 955.8 L1442.1 956.1 L1443.8 957.6 L1445.5 957.2 L1447.3 955.6 L1449.0 954.8 L1450.7 954.3 L1452.4 954.1 L1454.2 954.9 L1455.9 954.2 L1457.6 951.9 L1459.3 950.0 L1461.0 951.0 L1462.8 949.2 L1464.5 949.7 L1466.2 947.5 L1467.9 941.6 L1469.6 941.1 L1471.4 938.7 L1473.1 940.4 L1474.8 942.1 L1476.5 946.4 L1478.2 948.1 L1480.0 945.0 L1481.7 945.3 L1483.4 943.5 L1485.1 942.6 L1486.8 940.6 L1488.6 942.7 L1490.3 942.8 L1492.0 945.2 L1493.7 941.3 L1495.5 936.1 L1497.2 934.7 L1498.9 935.5 L1500.6 927.1 L1502.3 933.9 L1504.1 936.2 L1505.8 939.9 L1507.5 937.5 L1509.2 940.6 L1510.9 939.0 L1512.7 937.5 L1514.4 940.4 L1516.1 941.6 L1517.8 943.5 L1519.5 938.1 L1521.3 931.9 L1523.0 934.7 L1524.7 934.7 L1526.4 934.0 L1528.2 937.5 L1529.9 937.5 L1531.6 937.7 L1533.3 934.1 L1535.0 933.4 L1536.8 930.8 L1538.5 919.5 L1540.2 912.5 L1541.9 892.9 L1543.6 891.7 L1545.4 886.7 L1547.1 882.7 L1548.8 879.1 L1550.5 875.9 L1552.2 860.2 L1554.0 854.8 L1555.7 853.5 L1557.4 848.7 L1559.1 848.2 L1560.9 846.5 L1562.6 850.7 L1564.3 853.3 L1566.0 852.2 L1567.7 854.0 L1569.5 854.2 L1571.2 855.1 L1572.9 856.2 L1574.6 859.1 L1576.3 857.8 L1578.1 857.4 L1579.8 860.2 L1581.5 861.0 L1583.2 862.6 L1584.9 862.5 L1586.7 864.3 L1588.4 867.1 L1590.1 870.6 L1591.8 875.0 L1593.6 872.6 L1595.3 867.0 L1597.0 864.5 L1598.7 860.0 L1600.4 857.8 L1602.2 851.6 L1603.9 852.3 L1605.6 850.9 L1607.3 850.7 L1609.0 848.3 L1610.8 848.6 L1612.5 850.0 L1614.2 851.1 L1615.9 851.5 L1617.6 849.7 L1619.4 852.1 L1621.1 859.4 L1622.8 857.0 L1624.5 859.4 L1626.2 858.8 L1628.0 863.5 L1629.7 865.5 L1631.4 854.7 L1633.1 858.0 L1634.9 866.1 L1636.6 869.2 L1638.3 875.5 L1640.0 876.7 L1641.7 878.6 L1643.5 877.6 L1645.2 879.3 L1646.9 877.6 L1648.6 875.8 L1650.3 877.6 L1652.1 878.4 L1653.8 882.6 L1655.5 887.0 L1657.2 886.6 L1658.9 886.7 L1660.7 889.4 L1662.4 890.0 L1664.1 890.2 L1665.8 890.6 L1667.6 891.0 L1669.3 898.8 L1671.0 900.2 L1672.7 897.9 L1674.4 891.5 L1676.2 890.2 L1677.9 889.5 L1679.6 892.2 L1681.3 896.0 L1683.0 896.3 L1684.8 898.7 L1686.5 899.3 L1688.2 895.7 L1689.9 895.9 L1691.6 892.9 L1693.4 892.3 L1695.1 894.4 L1696.8 895.4 L1698.5 895.2 L1700.3 905.4 L1702.0 901.0 L1703.7 894.8 L1705.4 890.8 L1707.1 892.7 L1708.9 886.1 L1710.6 889.9 L1712.3 892.3 L1714.0 893.0 L1715.7 893.9 L1717.5 894.8 L1719.2 894.5 L1720.9 898.0 L1722.6 897.3 L1724.3 897.1 L1726.1 897.6 L1727.8 899.5 L1729.5 887.7 L1731.2 892.0 L1733.0 893.1 L1734.7 899.2 L1736.4 896.5 L1738.1 889.0 L1739.8 888.5 L1741.6 892.4 L1743.3 893.2 L1745.0 896.5 L1746.7 897.8 L1748.4 898.7 L1750.2 899.3 L1751.9 899.5 L1753.6 899.8 L1755.3 904.0 L1757.0 899.2 L1758.8 900.5 L1760.5 901.7 L1762.2 902.1 L1763.9 899.5 L1765.7 901.9 L1767.4 899.7 L1769.1 902.5 L1770.8 901.3 L1772.5 904.0 L1774.3 900.1 L1776.0 899.2 L1777.7 901.2 L1779.4 899.3 L1781.1 896.1 L1782.9 895.4 L1784.6 890.3 L1786.3 889.5 L1788.0 885.0 L1789.7 887.2 L1791.5 887.0 L1793.2 885.1 L1794.9 878.8 L1796.6 879.1 L1798.3 878.0 L1800.1 879.2 L1801.8 876.0 L1803.5 883.1 L1805.2 880.4 L1807.0 886.2 L1808.7 884.4 L1810.4 885.4 L1812.1 885.8 L1813.8 886.3 L1815.6 885.5 L1817.3 886.0 L1819.0 887.8 L1820.7 889.2 L1822.4 891.8 L1824.2 894.5 L1825.9 897.1 L1827.6 896.5 L1829.3 895.9 L1831.0 893.1 L1832.8 894.4 L1834.5 890.8 L1836.2 895.4 L1837.9 897.3 L1839.7 895.6 L1841.4 896.6 L1843.1 899.9 L1844.8 899.6 L1846.5 896.2 L1848.3 898.3 L1850.0 898.0 L1851.7 902.3 L1853.4 897.0 L1855.1 896.8 L1856.9 890.7 L1858.6 888.3 L1860.3 886.7 L1862.0 882.4 L1863.7 880.2 L1865.5 881.6 L1867.2 869.7 L1868.9 871.7 L1870.6 870.2 L1872.4 880.5 L1874.1 879.3 L1875.8 874.7 L1877.5 875.1 L1879.2 869.2 L1881.0 870.1 L1882.7 871.6 L1884.4 873.6 L1886.1 877.1 L1887.8 876.7 L1889.6 882.3 L1891.3 880.0 L1893.0 881.1 L1894.7 880.9 L1896.4 891.4 L1898.2 886.3 L1899.9 883.8 L1901.6 888.0 L1903.3 888.1 L1905.1 890.6 L1906.8 885.6 L1908.5 883.0 L1910.2 880.4 L1911.9 880.3 L1913.7 879.0 L1915.4 879.6 L1917.1 879.5 L1918.8 877.8 L1920.5 887.2 L1922.3 880.6 L1924.0 878.3 L1925.7 878.8 L1927.4 884.5 L1929.1 882.1 L1930.9 878.2 L1932.6 893.1 L1934.3 887.9 L1936.0 893.0 L1937.8 887.1 L1939.5 889.0 L1941.2 887.3 L1942.9 888.6 L1944.6 891.1 L1946.4 894.4 L1948.1 894.7 L1949.8 891.9 L1951.5 904.3 L1953.2 902.9 L1955.0 902.0 L1956.7 904.1 L1958.4 902.1 L1960.1 899.9 L1961.8 899.6 L1963.6 910.4 L1965.3 905.4 L1967.0 907.1 L1968.7 908.7 L1970.5 905.2 L1972.2 902.3 L1973.9 901.6 L1975.6 900.5 L1977.3 900.2 L1979.1 888.4 L1980.8 891.1 L1982.5 894.5 L1984.2 894.6 L1985.9 898.7 L1987.7 898.5 L1989.4 912.3 L1991.1 904.3 L1992.8 901.0 L1994.5 899.5 L1996.3 901.0 L1998.0 907.9 L1999.7 907.7 L2001.4 906.2 L2003.1 908.2 L2004.9 910.2 L2006.6 908.3 L2008.3 909.1 L2010.0 911.9 L2011.8 913.4 L2013.5 913.5 L2015.2 915.5 L2016.9 918.7 L2018.6 921.2 L2020.4 918.1 L2022.1 918.5 L2023.8 922.5 L2025.5 922.6 L2027.2 922.0 L2029.0 924.3 L2030.7 925.9 L2032.4 929.6 L2034.1 934.8 L2035.8 934.4 L2037.6 935.3 L2039.3 932.8 L2041.0 932.7 L2042.7 930.1 L2044.5 927.1 L2046.2 935.5 L2047.9 931.5 L2049.6 929.5 L2051.3 929.2 L2053.1 924.1 L2054.8 929.2 L2056.5 918.5" stroke="#00ff00" stroke-width="13" stroke-dasharray="13 10.8" stroke-linejoin="bevel"/>
<path d="M339.3 363.5 L340.2 480.0 L342.0 578.0 L344.6 677.0 L346.5 775.0 L350.7 873.0 L355.6 940.0 L360.6 1001.5 L369.2 1050.6 L374.1 1081.4 L375.3 1099.8 L381.5 1114.6 L388.8 1129.3 L396.2 1131.8" stroke="#000" stroke-width="13" stroke-dasharray="48 11 25 11" stroke-dashoffset="0" stroke-miterlimit="3"/>
<path d="M396.2 1131.8 L401.7 1118.2 L402.4 1099.8 L402.4 1078.3 L404.2 1078.5" stroke="#000" stroke-width="13" stroke-dasharray="300 1" stroke-dashoffset="0" stroke-miterlimit="3"/>
<path d="M404.2 1078.5 L408.3 1078.7 L427.7 1078.7 L436.0 1082.2 L445.7 1088.4 L451.9 1094.6 L455.4 1101.6 L458.2 1111.2 L462.3 1116.8 L466.5 1118.9 L476.9 1119.3 L479.6 1125.1 L483.1 1126.5 L491.4 1126.8 L495.6 1132.0 L499.0 1136.9 L502.5 1138.3 L518.4 1138.3 L521.5 1154.5" stroke="#000" stroke-width="13" stroke-dasharray="48 11 25 11" stroke-dashoffset="84" stroke-miterlimit="3"/>
<path d="M521.5 1154.5 L614.7 1154.5 L632.7 1155.3 L638.2 1159.0 L643.8 1165.3 L647.9 1168.4 L763.7 1168.4 L769.3 1172.9 L773.4 1176.8 L788.0 1177.0 L790.0 1168.4 L947.9 1168.4 L953.5 1165.3 L957.6 1160.4 L1009.0 1160.4" stroke="#000" stroke-width="13" stroke-dasharray="48 11 25 11" stroke-dashoffset="59" stroke-miterlimit="3"/>
<path d="M1009.0 1160.4 L1109.4 1160.4 L1112.9 1143.1 L1116.3 1124.4 L1124.7 1132.0 L1138.5 1141.0 L1145.4 1145.2 L1152.4 1150.7 L1156.5 1152.1 L1174.5 1152.4 L1180.1 1155.3 L1235.5 1155.6 L1241.7 1148.6 L1243.8 1137.6 L1245.8 1129.3 L1256.2 1126.5 L1257.6 1115.4 L1259.0 1107.1 L1263.2 1100.2 L1267.3 1091.9 L1268.0 1082.2 L1267.6 1071.1 L1268.7 1064.4 L1269.3 1063.3 L1295.6 1062.7 L1301.1 1056.8 L1306.6 1054.0 L1308.7 1040.8 L1312.2 1036.0 L1321.2 1034.6 L1323.3 1024.2 L1325.3 1006.2 L1328.1 986.8 L1336.4 984.0 L1338.5 978.5 L1341.3 964.7 L1342.7 952.2 L1349.6 952.9 L1351.0 945.3 L1353.7 939.0 L1366.2 935.6 L1368.3 930.0 L1369.7 924.5 L1381.4 923.4 L1386.2 923.5" stroke="#000" stroke-width="13" stroke-dasharray="48 11 25 11" stroke-dashoffset="0" stroke-miterlimit="3"/>
<path d="M1386.2 923.5 L1434.6 923.7 L1437.4 933.9 L1441.1 952.3 L1442.5 956.0 L1453.1 946.8 L1465.1 941.3 L1469.3 933.0 L1479.0 933.0 L1482.7 943.1 L1488.2 955.1 L1489.3 958.0 L1499.3 943.1 L1503.9 928.3 L1505.0 925.0 L1508.5 938.5 L1514.0 950.5 L1515.2 954.0 L1522.4 943.1 L1530.7 932.0 L1535.3 927.4 L1539.0 922.8 L1539.4 896.0 L1539.6 885.7 L1545.7 879.5 L1550.6 873.3 L1551.2 842.0 L1553.3 836.6 L1583.1 836.2 L1586.6 840.0 L1590.0 853.9 L1594.2 859.4 L1598.3 853.9 L1601.1 840.0 L1601.8 823.4 L1605.3 821.4 L1623.3 821.4 L1627.4 826.2 L1628.8 840.0 L1629.5 856.7 L1633.0 870.5 L1633.7 871.9 L1643.4 884.3 L1651.7 895.4 L1656.6 901.6 L1686.4 900.9 L1693.3 907.9 L1703.0 910.4 L1703.0 910.4" stroke="#000" stroke-width="13" stroke-dasharray="48 11 25 11" stroke-dashoffset="59" stroke-miterlimit="3"/>
<path d="M1703.0 910.4 L1750.8 910.4 L1759.8 913.4 L1765.3 921.7 L1770.0 921.7 L1781.1 921.7 L1786.6 917.6 L1792.2 909.3 L1796.3 898.2 L1799.8 888.5 L1802.5 886.4 L1806.3 892.6 L1808.1 900.9 L1815.7 898.9 L1824.0 899.8 L1830.9 905.8 L1836.5 904.8 L1858.6 904.5 L1864.2 899.6 L1866.3 887.1 L1868.3 880.2 L1875.3 876.7 L1879.4 873.5 L1882.5 872.3 L1886.3 877.4 L1889.1 885.7 L1894.7 887.8 L1898.8 893.3 L1903.0 894.7 L1933.4 894.7 L1944.5 891.9 L1950.1 896.8 L1955.6 902.3 L1961.1 909.3 L1965.3 914.8 L1966.0 915.5" stroke="#000" stroke-width="13" stroke-dasharray="48 11 25 11" stroke-dashoffset="0" stroke-miterlimit="3"/>
<path d="M1966.0 915.5 L1969.4 915.8 L2004.1 916.0 L2009.6 921.0 L2017.9 924.5 L2026.2 930.7 L2034.5 938.3 L2041.5 940.4 L2052.5 936.5 L2057.0 936.3" stroke="#000" stroke-width="13" stroke-dasharray="48 11 25 11" stroke-dashoffset="0" stroke-miterlimit="3"/>
</g>
<text class="tk" x="305" y="1478.5" text-anchor="end">0</text>
<text class="tk" x="305" y="1250.8" text-anchor="end">0.01</text>
<text class="tk" x="305" y="1023.2" text-anchor="end">0.02</text>
<text class="tk" x="305" y="795.5" text-anchor="end">0.03</text>
<text class="tk" x="305" y="567.8" text-anchor="end">0.04</text>
<text class="tk" x="305" y="340.2" text-anchor="end">0.05</text>
<text class="tk" x="305" y="112.5" text-anchor="end">0.06</text>
<text class="tk" x="333.0" y="1562" text-anchor="middle">0</text>
<text class="tk" x="677.2" y="1562" text-anchor="middle">200</text>
<text class="tk" x="1021.4" y="1562" text-anchor="middle">400</text>
<text class="tk" x="1365.6" y="1562" text-anchor="middle">600</text>
<text class="tk" x="1709.8" y="1562" text-anchor="middle">800</text>
<text class="tk" x="2054.0" y="1562" text-anchor="middle">1000</text>
<text class="lb" x="1195" y="1681" text-anchor="middle">X-Time</text>
<text class="lb" transform="translate(106 765.5) rotate(-90)" text-anchor="middle" style="letter-spacing:-0.2px">Y-Noise variance</text>
<rect x="1283.5" y="160.5" width="694" height="396" fill="#fff" stroke="#262626" stroke-width="5"/>
<g fill="none" stroke-linecap="butt">
<path d="M1307 217.5 H1486" stroke="#ff0000" stroke-width="9"/>
<path d="M1307 311.5 H1486" stroke="#0072bd" stroke-width="13" stroke-dasharray="13 10.7"/>
<path d="M1307 405.5 H1486" stroke="#00ff00" stroke-width="13" stroke-dasharray="13 10.7"/>
<path d="M1307 499.5 H1486" stroke="#000" stroke-width="13" stroke-dasharray="48 11 25 11"/>
</g>
<text class="lg" x="1503" y="248">Real Variance</text>
<text class="lg" x="1502" y="341" style="letter-spacing:-0.8px">MAP-NE</text>
<text class="lg" x="1503" y="435" style="letter-spacing:-0.8px">VB-NE</text>
<text class="lg" x="1503" y="529" style="letter-spacing:-0.8px">WF-NE</text>
</svg></body></html>
